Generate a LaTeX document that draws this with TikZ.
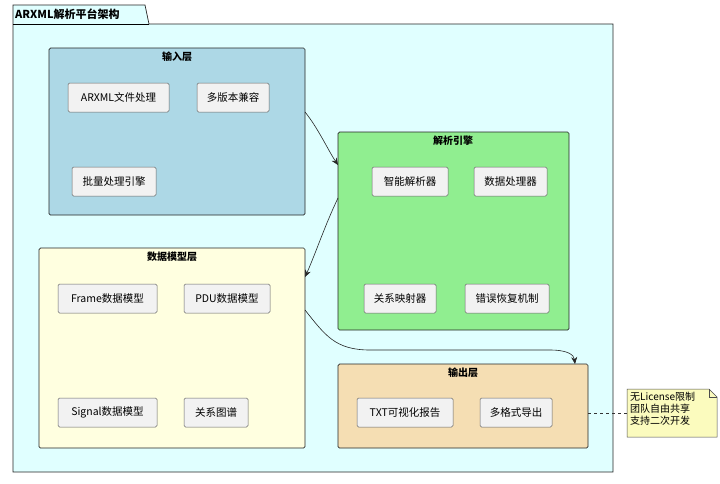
\documentclass[tikz,border=0pt]{standalone}
\usepackage{fontspec}
\usetikzlibrary{arrows.meta}
\setmainfont{Noto Sans CJK SC}
\begin{document}
\begin{tikzpicture}[x=1pt,y=-1pt,font=\fontsize{10.5}{12}\selectfont,
  grp/.style={draw=black!85,line width=0.7pt,rounded corners=1.5pt},
  comp/.style={draw=black!60,fill=black!5,rounded corners=1.5pt,line width=0.5pt},
  ttl/.style={font=\fontsize{10}{12}\selectfont\bfseries},
  arr/.style={-{Stealth[length=7pt,width=6pt]},line width=0.6pt,black!85}]
\useasboundingbox (0,0) rectangle (720,483);
% package
\draw[grp,fill={rgb,255:red,224;green,255;blue,255},rounded corners=0pt] (13,24) -- (13,5) -- (145,5) -- (149,24) -- (613,24) -- (613,472) -- (13,472) -- cycle;
\draw[line width=0.7pt] (13,24) -- (149,24);
\node[ttl,anchor=west,inner sep=0pt] (pk) at (15,14) {\fontsize{11}{12}\selectfont ARXML解析平台架构};
% groups
\draw[grp,fill={rgb,255:red,173;green,216;blue,230}] (49,48) rectangle (305,215);
\node[ttl] (t1) at (177,57) {输入层};
\draw[grp,fill={rgb,255:red,144;green,238;blue,144}] (338,132) rectangle (569,330);
\node[ttl] (t2) at (453,141) {解析引擎};
\draw[grp,fill={rgb,255:red,255;green,255;blue,224}] (39,248) rectangle (305,448);
\node[ttl] (t3) at (172,257) {数据模型层};
\draw[grp,fill={rgb,255:red,245;green,222;blue,179}] (338,364) rectangle (588,448);
\node[ttl] (t4) at (463,373) {输出层};
% components
\newcommand{\cmp}[5]{\draw[comp] (#1,#2) rectangle (#3,#4); \node at ({(#1+#3)/2},{(#2+#4)/2}) {#5};}
\cmp{68}{83}{169}{112}{ARXML文件处理}
\cmp{197}{83}{269}{112}{多版本兼容}
\cmp{72}{167}{156}{196}{批量处理引擎}
\cmp{372}{167}{448}{196}{智能解析器}
\cmp{474}{167}{547}{196}{数据处理器}
\cmp{364}{284}{436}{313}{关系映射器}
\cmp{465}{284}{549}{313}{错误恢复机制}
\cmp{58}{284}{157}{313}{Frame数据模型}
\cmp{184}{284}{270}{313}{PDU数据模型}
\cmp{58}{398}{157}{427}{Signal数据模型}
\cmp{184}{398}{248}{427}{关系图谱}
\cmp{357}{398}{453}{427}{TXT可视化报告}
\cmp{480}{398}{552}{427}{多格式导出}
% arrows
\coordinate (a1) at (305,112); \coordinate (b1) at (338,165);
\draw[arr] (a1) .. controls (318,128) and (328,150) .. (b1);
\coordinate (a2) at (338,198); \coordinate (b2) at (305,277);
\draw[arr] (a2) .. controls (325,225) and (315,255) .. (b2);
\coordinate (a3) at (305,310); \coordinate (b3) at (575,364);
\draw[arr] (a3) .. controls (325,335) and (335,350) .. (370,350) -- (550,350) .. controls (568,350) and (574,355) .. (b3);
% note
\draw[black!70,line width=0.5pt,fill={rgb,255:red,251;green,251;blue,190}] (627,389) -- (709,389) -- (717,397) -- (717,437) -- (627,437) -- cycle;
\draw[black!70,line width=0.5pt] (709,389) -- (709,397) -- (717,397);
\node[anchor=north west,align=left,inner sep=0pt,font=\fontsize{10}{12}\selectfont] (nt) at (630,392) {无License限制\\团队自由共享\\支持二次开发};
\coordinate (n1) at (588,413); \coordinate (n2) at (627,413);
\draw[dashed,black!80,line width=0.5pt] (n1) -- (n2);
\end{tikzpicture}
\end{document}
